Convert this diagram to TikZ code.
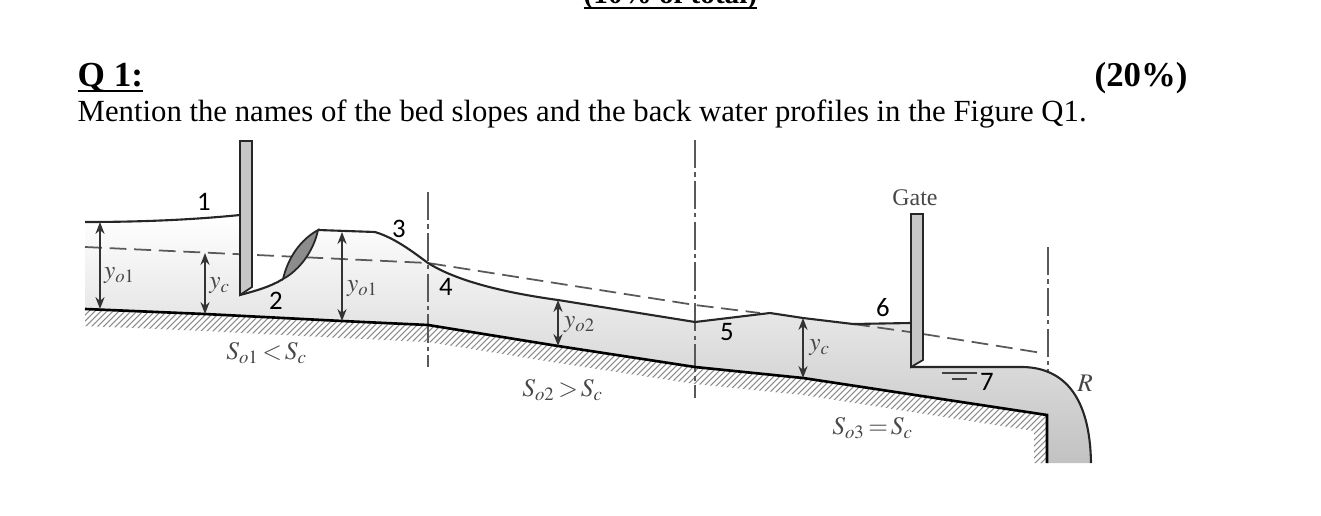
\documentclass[tikz,border=0pt]{standalone}
\usepackage{mathptmx}
\usepackage[no-math]{fontspec}
\setmainfont{Liberation Serif}
\newfontfamily\numfont{Carlito}
\usetikzlibrary{arrows.meta}
\tikzset{
    qtext/.style = {anchor=base west, inner sep=0pt, font=\fontsize{8.74}{10}\selectfont},
    flowlabel/.style = {inner sep=0pt, text=black!72, font=\fontsize{7.2}{8}\selectfont},
    numlabel/.style = {inner sep=0pt, font=\numfont\fontsize{7.6}{8}\selectfont},
    surface/.style = {line width=.6pt, draw=black!85},
    critline/.style = {line width=.5pt, draw=black!65, dash pattern=on 4.8pt off 2.2pt},
    sectionline/.style = {line width=.35pt, draw=black!65, dash pattern=on 8pt off 1.2pt on 1.2pt off 1.2pt},
    depth/.style = {{Stealth[length=3.4pt,width=2.6pt]}-{Stealth[length=3.4pt,width=2.6pt]}, line width=.35pt, draw=black!80},
    gatebody/.style = {line width=.5pt, draw=black!85, fill=black!22}
}
\begin{document}
\begin{tikzpicture}[x=.01cm,y=-.01cm]
    \useasboundingbox (0,0) rectangle (1321,515);
    % question text
    \node[qtext, font=\fontsize{8.3}{10}\selectfont] (total) at (583,4) {\underline{\smash{\textbf{(10\% of total)}}}};
    \node[qtext, font=\fontsize{10}{10}\selectfont] (qnum) at (77,86) {\underline{\smash{\textbf{Q 1:}}}};
    \node[qtext, font=\fontsize{9.9}{10}\selectfont] (marks) at (1094,87) {\textbf{(20\%)}};
    \node[qtext] (question) at (77,121) {Mention the names of the bed slopes and the back water profiles in the Figure Q1.};
    % water body
    \shade[top color=white, bottom color=black!24] (85,222) .. controls (150,222) and (200,219) .. (240,215)
        -- (240,295) .. controls (255,291) and (270,287) .. (283,279)
        .. controls (298,272) and (312,250) .. (318,230)
        -- (375,232) .. controls (395,238) and (413,252) .. (428,263)
        .. controls (455,280) and (500,292) .. (558,300)
        -- (695,322) -- (770,313) -- (803,318) -- (853,324) -- (911,323) -- (911,367)
        -- (1023,367) .. controls (1065,368) and (1090,398) .. (1091,463)
        -- (1047,463) -- (1047,415) -- (803,378) -- (695,367) -- (558,346) -- (428,325)
        -- (342,321) -- (205,314) -- (85,309) -- cycle;
    % hatching under the bed
    \begin{scope}
        \clip (85,309) -- (205,314) -- (342,321) -- (428,325) -- (558,346) -- (695,367) -- (803,378)
            -- (1047,415) -- (1047,463) -- (1034,463) -- (1034,431) -- (803,395) -- (695,384)
            -- (558,363) -- (428,342) -- (342,338) -- (205,331) -- (85,326) -- cycle;
        \foreach \i in {-80,-74,...,1060}
            \draw[line width=.3pt, black!45] (\i,480)--(\i+190,290);
    \end{scope}
    % section lines and critical depth
    \draw[sectionline] (428,192)--(428,367);
    \draw[sectionline] (695,140)--(695,398);
    \draw[sectionline] (1048,247)--(1048,373);
    \draw[critline] (85,247)--(428,263)--(695,305)--(760,313);
    \draw[critline] (853,324)--(910,332);
    \draw[critline] (923,334)--(1042,353);
    % bed
    \draw[line width=.75pt] (85,309)--(205,314)--(342,321)--(428,325)--(558,346)--(695,367)--(803,378)--(1047,415)--(1047,463);
    % water surface
    \draw[surface] (85,222) .. controls (150,222) and (200,219) .. (240,215);
    \draw[surface] (240,295) .. controls (255,291) and (270,287) .. (283,279);
    \draw[line width=.5pt, draw=black!85, fill=black!45] (283,279) .. controls (288,258) and (300,240) .. (318,230)
        .. controls (314,250) and (300,270) .. (283,279) -- cycle;
    \draw[surface] (318,230)--(375,232) .. controls (395,238) and (413,252) .. (428,263)
        .. controls (455,280) and (500,292) .. (558,300)--(695,322)--(770,313)--(803,318)--(853,324)--(911,323);
    \draw[surface] (911,367)--(1023,367) .. controls (1065,368) and (1090,398) .. (1091,463);
    % gates
    \draw[gatebody] (240,141)--(252,141)--(252,287)--(240,295)--cycle;
    \draw[gatebody] (911,214)--(923,214)--(923,360)--(911,367)--cycle;
    % depths
    \draw[depth] (100,222)--(100,309);
    \draw[depth] (205,253)--(205,314);
    \draw[depth] (342,232)--(342,321);
    \draw[depth] (558,300)--(558,346);
    \draw[depth] (803,318)--(803,378);
    % water level mark
    \draw[line width=.35pt, black!75] (942,373)--(977,373);
    \draw[line width=.35pt, black!75] (952,379)--(967,379);
    % labels
    \node[flowlabel] (yone) at (120,276) {$y_{o1}$};
    \node[flowlabel] (ycone) at (220,286) {$y_c$};
    \node[flowlabel] (yonetwo) at (363,289) {$y_{o1}$};
    \node[flowlabel] (ytwo) at (580,325) {$y_{o2}$};
    \node[flowlabel] (yctwo) at (820,348) {$y_c$};
    \node[flowlabel] (sone) at (267,353) {$S_{o1}\!<\!S_c$};
    \node[flowlabel] (stwo) at (563,390) {$S_{o2}\!>\!S_c$};
    \node[flowlabel] (sthree) at (873,428) {$S_{o3}\!=\!S_c$};
    \node[flowlabel, font=\fontsize{6.8}{8}\selectfont] (gate) at (915,198) {Gate};
    \node[flowlabel] (rad) at (1085,383) {$R$};
    \node[numlabel] (n1) at (204,202) {1};
    \node[numlabel] (n2) at (276,301) {2};
    \node[numlabel] (n3) at (399,229) {3};
    \node[numlabel] (n4) at (446,287) {4};
    \node[numlabel] (n5) at (727,332) {5};
    \node[numlabel] (n6) at (883,308) {6};
    \node[numlabel] (n7) at (987,382) {7};
\end{tikzpicture}
\end{document}
